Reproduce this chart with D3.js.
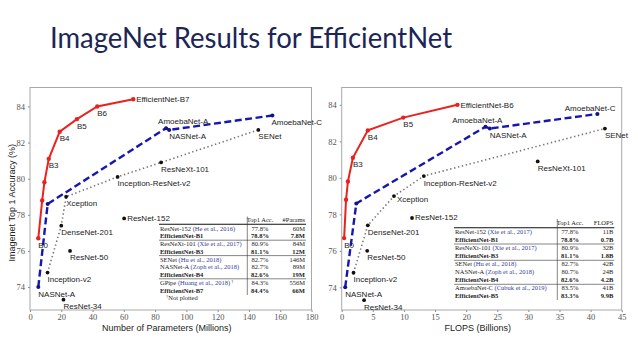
<!DOCTYPE html>
<html>
<head>
<meta charset="utf-8">
<script src="https://cdn.jsdelivr.net/npm/d3@7"></script>
<style>
  body { margin: 0; background: #fff; }
  svg { display: block; }
  .lbl { font-family: "Liberation Sans", Arial, sans-serif; font-size: 8px; fill: #222; }
  .tick text { font-family: "Liberation Serif", "Times New Roman", serif; font-size: 8.5px; fill: #555; }
  .tick line { stroke: #888; }
  .axtitle { font-family: "Liberation Sans", Arial, sans-serif; font-size: 9px; fill: #222; }
  .tbl { font-family: "Liberation Serif", "Times New Roman", serif; font-size: 6.5px; fill: #222; }
</style>
</head>
<body>
<svg id="chart" width="638" height="359"></svg>
<script>
// EfficientNet family (red)
var effNames = ["B0", "B1", "B2", "B3", "B4", "B5", "B6", "B7"];
var effAcc = [76.7, 78.8, 79.8, 81.1, 82.6, 83.3, 84.0, 84.4];
var effParams = [5.3, 7.8, 9.2, 12, 19, 30, 43, 66];
var effFlops = [0.39, 0.7, 1.0, 1.8, 4.2, 9.9, 18.6];

// NAS models (blue dashed)
var nasNames = ["NASNet-A", "", "AmoebaNet-A", "NASNet-A", "AmoebaNet-C"];
var nasAcc = [74.0, 78.6, 82.8, 82.7, 83.5];
var nasParams = [5.3, 11.3, 87, 89, 155];
var nasFlops = [0.56, 2.35, 23.1, 23.8, 41.1];

// hand-designed models (gray dotted)
var convNamesL = ["Inception-v2", "DenseNet-201", "Xception", "Inception-ResNet-v2", "ResNeXt-101", "SENet"];
var convAccL = [74.8, 77.4, 79.0, 80.1, 80.9, 82.7];
var convParams = [11.2, 20, 23.1, 56, 83.8, 146];
var convNamesR = ["Inception-v2", "DenseNet-201", "Xception", "Inception-ResNet-v2", "SENet"];
var convAccR = [74.8, 77.4, 79.0, 80.1, 82.7];
var convFlops = [1.9, 4.2, 8.4, 13.2, 42.3];

// single points
var soloNamesL = ["ResNet-152", "ResNet-50", "ResNet-34"];
var soloAccL = [77.8, 76.0, 73.3];
var soloParams = [60.2, 25.6, 21.4];
var soloNamesR = ["ResNet-152", "ResNet-50", "ResNet-34", "ResNeXt-101"];
var soloAccR = [77.8, 76.0, 73.3, 80.9];
var soloFlops = [11.3, 4.1, 3.6, 31.5];

var yTicks = [74, 76, 78, 80, 82, 84];
var xTicksL = [0, 20, 40, 60, 80, 100, 120, 140, 160, 180];
var xTicksR = [0, 5, 10, 15, 20, 25, 30, 35, 40, 45];

// tables
var tblNamesL = ["ResNet-152", "EfficientNet-B1", "ResNeXt-101", "EfficientNet-B3", "SENet", "NASNet-A", "EfficientNet-B4", "GPipe", "EfficientNet-B7"];
var tblCiteL = ["(He et al., 2016)", "", "(Xie et al., 2017)", "", "(Hu et al., 2018)", "(Zoph et al., 2018)", "", "(Huang et al., 2018)", ""];
var tblAccL = ["77.8%", "78.8%", "80.9%", "81.1%", "82.7%", "82.7%", "82.6%", "84.3%", "84.4%"];
var tblParamsL = ["60M", "7.8M", "84M", "12M", "146M", "89M", "19M", "556M", "66M"];
var tblNamesR = ["ResNet-152", "EfficientNet-B1", "ResNeXt-101", "EfficientNet-B3", "SENet", "NASNet-A", "EfficientNet-B4", "AmoebaNet-C", "EfficientNet-B5"];
var tblCiteR = ["(Xie et al., 2017)", "", "(Xie et al., 2017)", "", "(Hu et al., 2018)", "(Zoph et al., 2018)", "", "(Cubuk et al., 2019)", ""];
var tblAccR = ["77.8%", "78.8%", "80.9%", "81.1%", "82.7%", "80.7%", "82.6%", "83.5%", "83.3%"];
var tblFlopsR = ["11B", "0.7B", "32B", "1.8B", "42B", "24B", "4.2B", "41B", "9.9B"];

var svg = d3.select("#chart");

svg.append("text")
  .attr("x", 50).attr("y", 48)
  .attr("textLength", 402).attr("lengthAdjust", "spacingAndGlyphs")
  .style("font-family", "Lato, 'Open Sans', sans-serif")
  .style("font-size", "28px")
  .style("fill", "#1c2556")
  .text("ImageNet Results for EfficientNet");

function zip(names, xs, ys) {
  return xs.map(function (x, i) { return { name: names[i], x: x, y: ys[i] }; });
}

function drawPanel(p) {
  var x = d3.scaleLinear().domain(p.xDomain).range([p.left, p.right]);
  var y = d3.scaleLinear().domain(p.yDomain).range([p.bottom, p.top]);
  var g = svg.append("g");

  g.append("g")
    .attr("transform", "translate(" + p.left + ",0)")
    .call(d3.axisLeft(y).tickValues(yTicks).tickSize(2).tickPadding(3))
    .select(".domain").remove();
  g.append("g")
    .attr("transform", "translate(0," + p.bottom + ")")
    .call(d3.axisBottom(x).tickValues(p.xTicks).tickSize(2).tickPadding(2))
    .select(".domain").remove();

  g.append("rect")
    .attr("x", p.left).attr("y", p.top)
    .attr("width", p.right - p.left).attr("height", p.bottom - p.top)
    .attr("fill", "none").attr("stroke", "#a8a8a8").attr("stroke-width", 1);

  g.append("text").attr("class", "axtitle")
    .attr("x", (p.left + p.right) / 2 - 4).attr("y", 330.5)
    .attr("text-anchor", "middle").text(p.xTitle);
  if (p.yTitle)
    g.append("text").attr("class", "axtitle")
      .attr("transform", "translate(15," + ((p.top + p.bottom) / 2 + 4) + ") rotate(-90)")
      .attr("text-anchor", "middle").text(p.yTitle);

  var line = d3.line().x(function (d) { return x(d.x); }).y(function (d) { return y(d.y); });

  g.append("path").datum(p.conv)
    .attr("fill", "none").attr("stroke", "#777").attr("stroke-width", 1.6)
    .attr("stroke-dasharray", "1.4,2.6").attr("d", line);
  g.append("path").datum(p.nas)
    .attr("fill", "none").attr("stroke", "#1717b0").attr("stroke-width", 2.4)
    .attr("stroke-dasharray", "7,3.5").attr("d", line);
  g.append("path").datum(p.eff)
    .attr("fill", "none").attr("stroke", "#e8231f").attr("stroke-width", 2).attr("d", line);

  function dots(data, color, r) {
    g.selectAll(null).data(data).enter().append("circle")
      .attr("cx", function (d) { return x(d.x); })
      .attr("cy", function (d) { return y(d.y); })
      .attr("r", r).attr("fill", color);
  }
  dots(p.conv.concat(p.solo), "#111", 1.9);
  dots(p.nas, "#12128a", 2);
  dots(p.eff, "#e8231f", 2.2);

  var all = p.eff.concat(p.nas, p.conv, p.solo);
  all.forEach(function (d) {
    var text = p.labelText[d.name] || d.name;
    if (!text || p.hide.indexOf(d.name) >= 0) return;
    var pos = p.place[d.name] || [0, 9.5, "start"];
    g.append("text").attr("class", "lbl")
      .attr("x", x(d.x) + pos[0]).attr("y", y(d.y) + pos[1])
      .attr("text-anchor", pos[2]).text(text);
  });

  drawTable(p.table);
}

function drawTable(t) {
  var g = svg.append("g");
  g.append("text").attr("class", "tbl")
    .attr("x", t.accX).attr("y", t.headY).attr("text-anchor", "middle").text("Top1 Acc.");
  g.append("text").attr("class", "tbl")
    .attr("x", t.x2).attr("y", t.headY).attr("text-anchor", "end").text(t.lastHead);
  g.append("line").attr("x1", t.x0 - 1).attr("x2", t.x2 + 1)
    .attr("y1", t.thickY).attr("y2", t.thickY).attr("stroke", "#111").attr("stroke-width", 1.1);
  g.append("line").attr("x1", t.vx).attr("x2", t.vx)
    .attr("y1", t.vy0).attr("y2", t.vy1).attr("stroke", "#333").attr("stroke-width", 0.6);
  t.rules.forEach(function (ry) {
    g.append("line").attr("x1", t.x0 - 1).attr("x2", t.x2 + 1)
      .attr("y1", ry).attr("y2", ry).attr("stroke", "#333").attr("stroke-width", 0.6);
  });
  t.names.forEach(function (n, i) {
    var cy = t.row0 + i * t.step + 2.2;
    var bold = n.indexOf("EfficientNet") === 0;
    var tx = g.append("text").attr("class", "tbl").attr("x", t.x0).attr("y", cy)
      .style("font-weight", bold ? "bold" : "normal");
    tx.append("tspan").text(n);
    if (t.cites[i]) tx.append("tspan").style("fill", "#34409a").text(" " + t.cites[i]);
    if (n === "GPipe") tx.append("tspan").attr("dy", -2).style("font-size", "4.5px").text(" \u2020");
    g.append("text").attr("class", "tbl").attr("x", t.accX).attr("y", cy)
      .attr("text-anchor", "middle").style("font-weight", bold ? "bold" : "normal").text(t.acc[i]);
    g.append("text").attr("class", "tbl").attr("x", t.x2).attr("y", cy)
      .attr("text-anchor", "end").style("font-weight", bold ? "bold" : "normal").text(t.last[i]);
  });
  if (t.note) {
    var nt = g.append("text").attr("class", "tbl").attr("x", t.x0 + 6).attr("y", t.row0 + t.names.length * t.step + 2);
    nt.append("tspan").attr("dy", -2).style("font-size", "4.5px").text("\u2020");
    nt.append("tspan").attr("dy", 2).text(t.note);
  }
}

drawPanel({
  left: 30, right: 311.5, top: 87.5, bottom: 310,
  xDomain: [0, 180], yDomain: [72.73, 85.05], xTicks: xTicksL,
  xTitle: "Number of Parameters (Millions)", yTitle: "Imagenet Top 1 Accuracy (%)",
  eff: zip(effNames, effParams, effAcc),
  nas: zip(nasNames, nasParams, nasAcc),
  conv: zip(convNamesL, convParams, convAccL),
  solo: zip(soloNamesL, soloParams, soloAccL),
  labelText: { "B7": "EfficientNet-B7" },
  hide: ["B1", "B2"],
  place: {
    "B7": [3, 3, "start"],
    "ResNet-152": [3, 3, "start"],
    "AmoebaNet-A": [-8, -4, "start"],
    "AmoebaNet-C": [-1, 10, "start"]
  },
  table: {
    x0: 160, vx: 247.3, vy0: 216.5, vy1: 295, accX: 260, x2: 305,
    headY: 222, thickY: 224.3, row0: 228.3, step: 7.75, rules: [240.2, 255.6, 278.8],
    lastHead: "#Params", names: tblNamesL, cites: tblCiteL, acc: tblAccL, last: tblParamsL,
    note: "Not plotted"
  }
});

drawPanel({
  left: 341.7, right: 621.7, top: 87.5, bottom: 310,
  xDomain: [0, 45], yDomain: [72.76, 84.95], xTicks: xTicksR,
  xTitle: "FLOPS (Billions)", yTitle: null,
  eff: zip(effNames, effFlops, effAcc),
  nas: zip(nasNames, nasFlops, nasAcc),
  conv: zip(convNamesR, convFlops, convAccR),
  solo: zip(soloNamesR, soloFlops, soloAccR),
  labelText: { "B6": "EfficientNet-B6" },
  hide: ["B1", "B2"],
  place: {
    "B6": [3, 3, "start"],
    "ResNet-152": [3, 2, "start"],
    "Xception": [3, 6, "start"],
    "AmoebaNet-A": [17, -3.5, "end"],
    "AmoebaNet-C": [18, -3, "end"]
  },
  table: {
    x0: 455, vx: 557.3, vy0: 219, vy1: 300, accX: 570, x2: 613.3,
    headY: 225, thickY: 227.7, row0: 231.7, step: 8.05, rules: [244, 260.3, 284.3],
    lastHead: "FLOPS", names: tblNamesR, cites: tblCiteR, acc: tblAccR, last: tblFlopsR,
    note: null
  }
});
</script>
</body>
</html>
